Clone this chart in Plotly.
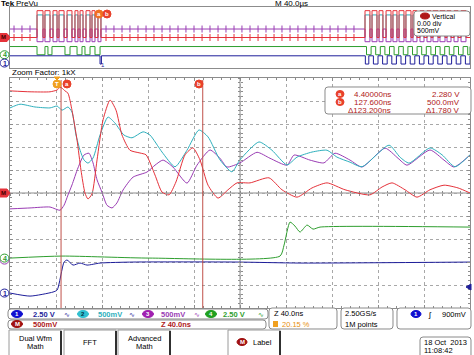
import plotly.graph_objects as go

W, H = 474, 355

# ---------------- data ----------------
# Zoom window: time in ns, values in volts
m_t = [-40, -22.6, -5.2, 1, 3.5, 5.2, 7.8, 10.4, 13.9, 18.3, 21.7, 25.2, 27.8, 31.3, 35.7, 40.9, 47, 52.2, 57.4, 64.3,
       73, 78.3, 86.1, 92.2, 98.3, 104.3, 112.2, 119.1, 125.2, 132.2, 140.9, 149.6, 157.4, 168.7, 185.2, 196.5, 209.6,
       222.6, 235.7, 251.3, 273, 283.5, 292.2, 303.5, 313.9, 325.2, 337.4, 349.6, 360]
m_v = [2.22, 2.20, 2.20, 2.24, 2.30, 2.28, 2.22, 2.17, 1.80, 1.15, 0.50, 0, -0.13, -0.02, 0.72, 1.59, 2.02, 1.80, 1.26,
       0.93, 0.87, 0.83, 0.39, 0.02, -0.04, 0.24, 0.83, 0.98, 0.72, 0.17, -0.11, 0.07, 0.22, 0.22, 0.33, 0.07, -0.09,
       0.11, 0.22, 0.07, -0.04, 0.13, 0.22, 0.07, -0.09, 0.07, 0.17, 0.11, 0]

c2_t = [-40, -31.3, -18.3, -5.2, 1, 5.2, 10.4, 13.9, 17.4, 20.9, 24.3, 27.8, 32.2, 38.3, 45.2, 51.3, 59.1, 66.1, 75.7,
        81.7, 92.2, 103.5, 113.9, 124.3, 132.2, 142.6, 153, 160, 176.5, 187.8, 200.9, 209.6, 222.6, 235.7, 244.3,
        255.7, 266.1, 289.6, 299.1, 307, 325.2, 335.7, 347, 360]
c2_v = [1.85, 1.93, 1.87, 1.85, 1.89, 1.80, 1.87, 1.76, 1.26, 0.93, 0.72, 0.65, 0.76, 1.26, 1.65, 1.52, 1.26, 1.20, 1.33,
        1.26, 0.89, 0.57, 0.93, 1.37, 1.22, 0.72, 0.46, 0.72, 1.11, 0.93, 0.61, 0.78, 0.89, 0.93, 0.78, 0.67, 0.57,
        1.04, 0.78, 0.65, 0.98, 0.83, 0.57, 0.83]

c3_t = [-40, -22.6, -5.2, 3.5, 7, 10.4, 13.9, 19.1, 24.3, 28.7, 32.2, 35.7, 40, 44.3, 48.7, 53, 58.3, 67, 79.1, 86.1,
        93, 101.7, 113.9, 122.6, 133.9, 142.6, 148.7, 160, 174.8, 186.1, 200.9, 207, 220.9, 233, 242.6, 255.7, 266.1,
        286.1, 297.4, 305.2, 325.2, 337.4, 346.1, 360]
c3_v = [1.07, 1.09, 1.11, 1.04, 1.15, 1.37, 1.59, 1.96, 2.24, 2.28, 2.07, 1.70, 1.43, 1.15, 1.09, 1.20, 1.48, 1.76, 1.87,
        2.02, 2.13, 1.98, 1.63, 2.02, 2.35, 2.17, 1.98, 2.07, 2.30, 2.17, 2.02, 2.24, 2.13, 2.07, 2.28, 2.13, 1.98,
        2.39, 2.17, 2.02, 2.35, 2.13, 1.98, 2.24]

c4_t = [-40, 5.2, 81.7, 194.8, 198.3, 203.5, 207.8, 212.2, 218.3, 223.5, 229.6, 360]
c4_v = [0, 0.22, 0, 0.22, 1.41, 3.91, 3.48, 2.83, 3.59, 3.15, 3.37, 3.37]

c1_t = [-40, -22.6, -2.6, 1, 7, 9.6, 14.8, 20.9, 27, 38.3, 67, 157.4, 212.2, 360]
c1_v = [0, -0.33, 0.11, 0.33, 3.37, 3.59, 3.04, 3.26, 3.04, 3.26, 3.37, 3.37, 3.26, 3.37]

# channel scale (V/div) and position (div)
scale = {"1": 2.5, "2": 0.5, "3": 0.5, "4": 2.5, "M": 0.5}
pos = {"1": -4.35, "2": 0.0, "3": -2.83, "4": -2.83, "M": 0.0}

cursor_a_ns, cursor_b_ns = 4.4, 127.6
cursor_rows = [("a", "4.40000ns", "2.280 V"), ("b", "127.600ns", "500.0mV"), ("", "\u0394123.200ns", "\u03941.780 V")]

# Overview (record, time in µs)
red_hi = [(23.5, 28.7), (30.4, 34.8), (37.4, 40.9), (42.6, 47), (49.6, 53.9), (56.5, 59.1), (60.9, 63.5), (66.1, 69.6),
          (71.3, 73.9), (76.5, 79.1),
          (308.7, 313), (314.8, 319.1), (320.9, 324.3), (327, 331.3), (333, 336.5), (338.3, 342.6), (344.3, 348.7),
          (350.4, 353.9), (356.5, 360), (362.6, 366.1), (367.8, 372.2), (373.9, 378.3), (380, 383.5), (386.1, 389.6),
          (392.2, 396.5)]
green_lo = [(23.5, 30.4), (33, 36.5), (47.8, 52.2), (58.3, 62.6), (65.2, 69.6), (73.9, 78.3),
            (310, 314), (318, 322), (326, 330), (334, 338), (342, 346), (350, 354), (358, 362), (366, 370),
            (374, 378), (382, 386), (390, 394), (398, 400)]
blue_lo = [(78.3, 79.5), (309, 312), (316, 320), (324, 328), (332, 336), (340, 344), (348, 352), (356, 360),
           (364, 368), (372, 376), (380, 384), (388, 392), (396, 400)]
ov_levels = {"M": (0.0, 2.2), "2": (0.0, 1.85), "3": (2.11, 1.07), "4": (3.37, 0.0), "1": (3.37, 0.0)}
# small glitches seen on the idle magenta / red lines of the overview
glitch_us = [3.5, 10.4, 17.4, 83.5, 90.4, 97.4, 104.3, 111.3, 118.3, 125.2, 132.2, 139.1, 146.1, 153, 160, 167,
             173.9, 180.9, 187.8, 194.8, 201.7, 208.7, 215.7, 222.6, 229.6, 236.5, 243.5, 250.4, 257.4, 264.3,
             271.3, 278.3, 285.2, 292.2, 299.1]

colors = {"1": "#1e1e9a", "2": "#2fb0bd", "3": "#9a3cb4", "4": "#2e9e2e", "M": "#e5323a"}

# ---------------- helpers ----------------
def X(p): return p / W
def Y(p): return 1 - p / H

def div(vals, ch):
    return [v / scale[ch] + pos[ch] for v in vals]

def steps(intervals, base, alt, t0=0, t1=400):
    xs, ys = [t0], [base]
    for a, b in intervals:
        xs += [a, a, b, b]
        ys += [base, alt, alt, base]
    xs.append(t1); ys.append(base)
    return xs, ys

fig = go.Figure()

# ----- overview traces -----
for ch, iv in [("2", red_hi), ("3", red_hi), ("4", green_lo), ("1", blue_lo), ("M", red_hi)]:
    base, alt = ov_levels[ch]
    xs, ys = steps(iv, base, alt)
    fig.add_trace(go.Scatter(x=xs, y=div(ys, ch), xaxis="x2", yaxis="y2", mode="lines",
                             line=dict(color=colors[ch], width=1), hoverinfo="skip", showlegend=False))
for ch in ("3", "M"):
    base = ov_levels[ch][0]
    fig.add_trace(go.Scatter(x=glitch_us, y=div([base] * len(glitch_us), ch), xaxis="x2", yaxis="y2",
                             mode="markers", marker=dict(symbol="line-ns", size=5,
                                                         line=dict(color=colors[ch], width=1)),
                             hoverinfo="skip", showlegend=False))

# ----- main traces -----
for ch, t, v in [("1", c1_t, c1_v), ("4", c4_t, c4_v), ("3", c3_t, c3_v), ("2", c2_t, c2_v), ("M", m_t, m_v)]:
    fig.add_trace(go.Scatter(x=t, y=div(v, ch), mode="lines", line=dict(color=colors[ch], width=1, shape="spline",
                             smoothing=0.6), hoverinfo="skip", showlegend=False))

# dummy traces for the crosshair tick axes
for xa, ya in [("x3", "y"), ("x4", "y"), ("x", "y3"), ("x", "y4")]:
    fig.add_trace(go.Scatter(x=[None], y=[None], xaxis=xa, yaxis=ya, showlegend=False, hoverinfo="skip"))

GRID = "#a8a8a8"
EDGE = "#8c8c8c"
common = dict(showticklabels=False, zeroline=False, fixedrange=True)
fig.update_layout(
    width=W, height=H, margin=dict(l=0, r=0, t=0, b=0), paper_bgcolor="white", plot_bgcolor="white",
    showlegend=False,
    xaxis=dict(domain=[X(10), X(470)], range=[-40, 360], dtick=40, tick0=-40, showgrid=True, gridcolor=GRID,
               griddash="dot", gridwidth=1, showline=True, linecolor=EDGE, mirror="ticks", ticks="inside",
               ticklen=3, tickcolor=EDGE, minor=dict(dtick=8, tick0=-40, ticks="inside", ticklen=2, tickcolor=EDGE,
                                                      showgrid=False), **common),
    yaxis=dict(domain=[Y(308), Y(78)], range=[-5, 5], dtick=1, tick0=-5, showgrid=True, gridcolor=GRID,
               griddash="dot", gridwidth=1, showline=True, linecolor=EDGE, mirror="ticks", ticks="inside",
               ticklen=3, tickcolor=EDGE, minor=dict(dtick=0.2, tick0=-5, ticks="inside", ticklen=2, tickcolor=EDGE,
                                                      showgrid=False), **common),
    xaxis3=dict(overlaying="x", anchor="free", position=Y(193), range=[-40, 360], dtick=8, tick0=-40,
                ticks="outside", ticklen=2, tickcolor=EDGE, showgrid=False, showline=False, **common),
    xaxis4=dict(overlaying="x", anchor="free", position=Y(193), range=[-40, 360], dtick=8, tick0=-40,
                ticks="inside", ticklen=2, tickcolor=EDGE, showgrid=False, showline=False, **common),
    yaxis3=dict(overlaying="y", anchor="free", position=X(240), range=[-5, 5], dtick=0.2, tick0=-5,
                ticks="outside", ticklen=2, tickcolor=EDGE, showgrid=False, showline=False, **common),
    yaxis4=dict(overlaying="y", anchor="free", position=X(240), range=[-5, 5], dtick=0.2, tick0=-5,
                ticks="inside", ticklen=2, tickcolor=EDGE, showgrid=False, showline=False, **common),
    xaxis2=dict(domain=[X(10), X(470)], range=[0, 400], anchor="y2", showgrid=False, showline=True,
                linecolor=EDGE, mirror=True, ticks="", **common),
    yaxis2=dict(domain=[Y(68), Y(7)], range=[-5, 5], anchor="x2", showgrid=False, showline=True,
                linecolor=EDGE, mirror=True, ticks="", **common),
)

shapes = []
ann = []
FONT = "Liberation Sans"
FS = 8

def T(text, x, y, color="black", size=FS, anchor="left", bold=False):
    if bold:
        text = "<b>" + text + "</b>"
    ann.append(dict(text=text, x=X(x), y=Y(y), xref="paper", yref="paper", xanchor=anchor, yanchor="middle",
                    showarrow=False, borderpad=0, font=dict(family=FONT, size=size, color=color)))

def rrect(x0, y0, x1, y1, r=3, line="#8a8a8a", fill="white", width=1):
    shapes.append(dict(type="rect", xref="paper", yref="paper", x0=X(x0 + 1), x1=X(x1 - 1), y0=Y(y1 - 1),
                       y1=Y(y0 + 1), fillcolor=fill, opacity=1, line=dict(width=0), layer="above"))
    def P(a, b): return f"{X(a):.5f},{Y(b):.5f}"
    path = (f"M{P(x0 + r, y0)} L{P(x1 - r, y0)} Q{P(x1, y0)} {P(x1, y0 + r)} L{P(x1, y1 - r)} "
            f"Q{P(x1, y1)} {P(x1 - r, y1)} L{P(x0 + r, y1)} Q{P(x0, y1)} {P(x0, y1 - r)} "
            f"L{P(x0, y0 + r)} Q{P(x0, y0)} {P(x0 + r, y0)} Z")
    shapes.append(dict(type="path", path=path, xref="paper", yref="paper", line=dict(color=line, width=width),
                       fillcolor=fill, opacity=1, layer="above"))

def oval(cx, cy, w, h, fill, text="", tcolor="white", line=None, size=6):
    shapes.append(dict(type="circle", xref="paper", yref="paper", x0=X(cx - w / 2), x1=X(cx + w / 2),
                       y0=Y(cy + h / 2), y1=Y(cy - h / 2), fillcolor=fill,
                       line=dict(color=line or fill, width=1), layer="above"))
    if text:
        T(text, cx, cy, tcolor, size, "center", bold=True)

# centre crosshair lines of the graticule
shapes.append(dict(type="line", xref="x", yref="paper", x0=160, x1=160, y0=Y(308), y1=Y(78),
                   line=dict(color=EDGE, width=1), layer="below"))
shapes.append(dict(type="line", xref="paper", yref="y", x0=X(10), x1=X(470), y0=0, y1=0,
                   line=dict(color=EDGE, width=1), layer="below"))

# cursors
for c in (cursor_a_ns, cursor_b_ns):
    shapes.append(dict(type="line", xref="x", yref="paper", x0=c, x1=c, y0=Y(308), y1=Y(80),
                       line=dict(color="#c0504a", width=1), layer="above"))

# ---- header ----
T("Tek", 0, 4, "black", 8, bold=True)
T("PreVu", 15, 4, "black", 8)
T("M 40.0\u00b5s", 291, 4, "black", 8, "center")
T("Zoom Factor: 1kX", 11, 73, "black", 8)

# overview markers
oval(99, 14, 8, 8, "#f07020", "a", size=6)
oval(107, 14, 8, 8, "#e8402a", "b", size=6)
T("1", 103, 65, colors["1"], 6, "center")
rrect(414, 11, 470, 36, 3)
oval(425, 16, 9, 6, "#b01818")
T("Vertical", 431, 16, "black", 7)
T("0.00 div", 416, 23.5, "black", 7)
T("500mV", 416, 31, "black", 7)

# left side channel tags
def tag(y, ch, label):
    if ch == "M":
        shapes.append(dict(type="path", xref="paper", yref="paper",
                           path=f"M{X(0)},{Y(y-4)} L{X(7)},{Y(y-4)} L{X(10)},{Y(y)} L{X(7)},{Y(y+4)} L{X(0)},{Y(y+4)} Z",
                           fillcolor=colors["M"], line=dict(color=colors["M"], width=1), layer="above"))
        T("M", 4, y, "#400000", 6, "center", bold=True)
    else:
        oval(4.5, y, 9, 8, "white", label, colors[ch], line=colors[ch], size=7)

def ov_y(ch):  # overview pixel of a channel's zero level
    return 37.5 - pos[ch] * 6.1

def main_y(ch):
    return 193 - pos[ch] * 23

tag(ov_y("M"), "M", "M")
tag(ov_y("4"), "4", "4")
tag(ov_y("1") - 1, "1", "1")
tag(main_y("M"), "M", "M")
oval(4.5, main_y("3") + 2, 9, 8, "white", "", line=colors["3"])
tag(main_y("4"), "4", "4")
tag(main_y("1"), "1", "1")
# trigger level arrow on right
shapes.append(dict(type="path", xref="paper", yref="paper",
                   path=f"M{X(466)},{Y(287)} L{X(471)},{Y(284)} L{X(471)},{Y(290)} Z",
                   fillcolor=colors["1"], line=dict(color=colors["1"], width=1), layer="above"))

# markers at top of zoom window
shapes.append(dict(type="path", xref="paper", yref="paper",
                   path=f"M{X(54)},{Y(77)} L{X(60)},{Y(77)} L{X(57)},{Y(80)} Z",
                   fillcolor="#f0a020", line=dict(color="#f0a020", width=1), layer="above"))
oval(57, 84, 8, 8, "#f0a020", "T", size=6)
oval(67, 84, 8, 8, "#e8402a", "a", size=6)
oval(199, 84, 8, 8, "#e8402a", "b", size=6)

# cursor readout
rrect(325, 87, 471, 114, 3)
ys = [94, 102, 110]
for (lab, tv, vv), yy in zip(cursor_rows, ys):
    if lab:
        oval(340, yy, 8, 7, "#e8402a", lab, size=6)
    T(tv, 392, yy, "#b02020", 8, "right")
    T(vv, 461, yy, "#b02020", 8, "right")

# ---- bottom status ----
rrect(8, 309, 268, 319, 3)
rrect(8, 320, 266, 329, 3)
oval(17, 314, 11, 7, "#1010d0", "1", size=6)
T("2.50 V", 32, 314, colors["1"], 7.5, bold=True)
T("\u223f", 67, 314, colors["1"], 7, "center")
oval(83, 314, 11, 7, "#30c0d0", "2", "#003040", size=6)
T("500mV", 97, 314, colors["2"], 7.5, bold=True)
T("\u223f", 132, 314, colors["1"], 7, "center")
oval(148, 314, 11, 7, "#a020b0", "3", size=6)
T("500mV", 160, 314, colors["3"], 7.5, bold=True)
T("\u223f", 197, 314, colors["3"], 7, "center")
oval(211, 314, 11, 7, "#20a020", "4", size=6)
T("2.50 V", 222, 314, colors["4"], 7.5, bold=True)
T("\u223f", 261, 314, colors["4"], 7, "center")
oval(17, 324, 11, 7, "#a01010", "M", size=6)
T("500mV", 32, 324, "#b02020", 7.5, bold=True)
T("Z 40.0ns", 160, 324, "#b02020", 7.5, bold=True)

rrect(269, 308, 337, 329, 3)
T("Z 40.0ns", 273, 313, "black", 7.5)
shapes.append(dict(type="rect", xref="paper", yref="paper", x0=X(273), x1=X(278), y0=Y(327), y1=Y(321),
                   fillcolor="#f0a020", line=dict(width=0), layer="above"))
T("20.15 %", 281, 324, "#e89010", 7.5)
rrect(341, 308, 393, 329, 3)
T("2.50GS/s", 344, 313, "black", 7.5)
T("1M points", 344, 324, "black", 7.5)
rrect(397, 308, 471, 329, 3)
oval(416, 314, 10, 7, "#1010d0", "1", size=6)
T("\u0283", 430, 314, "black", 8, "center")
T("900mV", 467, 314, "black", 7.5, "right")

# menu buttons
def button(x0, x1, lines):
    shapes.append(dict(type="rect", xref="paper", yref="paper", x0=X(x0), x1=X(x1), y0=Y(358), y1=Y(330),
                       fillcolor="white", line=dict(color="#9a9a9a", width=1), layer="above"))
    shapes.append(dict(type="line", xref="paper", yref="paper", x0=X(x1), x1=X(x1), y0=Y(358), y1=Y(331),
                       line=dict(color="#303030", width=2), layer="above"))
    if len(lines) == 2:
        T(lines[0], (x0 + x1) / 2, 338, "black", 7.5, "center")
        T(lines[1], (x0 + x1) / 2, 346, "black", 7.5, "center")
    elif len(lines) == 1:
        T(lines[0], (x0 + x1) / 2, 342, "black", 7.5, "center")

button(9, 61, ["Dual Wfm", "Math"])
button(64, 116, ["FFT"])
button(118, 170, ["Advanced", "Math"])
button(228, 280, [])
oval(242, 342, 10, 7, "#a01010", "M", size=6)
T("Label", 252, 342, "black", 7.5)

rrect(420, 337, 471, 358, 3)
T("18 Oct  2013", 423, 342, "black", 7.5)
T("11:08:42", 423, 350, "black", 7.5)

fig.update_layout(shapes=shapes, annotations=ann)
fig.write_html("out.html", config={"displayModeBar": False, "staticPlot": True},
               post_script="document.body.style.margin='0px';")
